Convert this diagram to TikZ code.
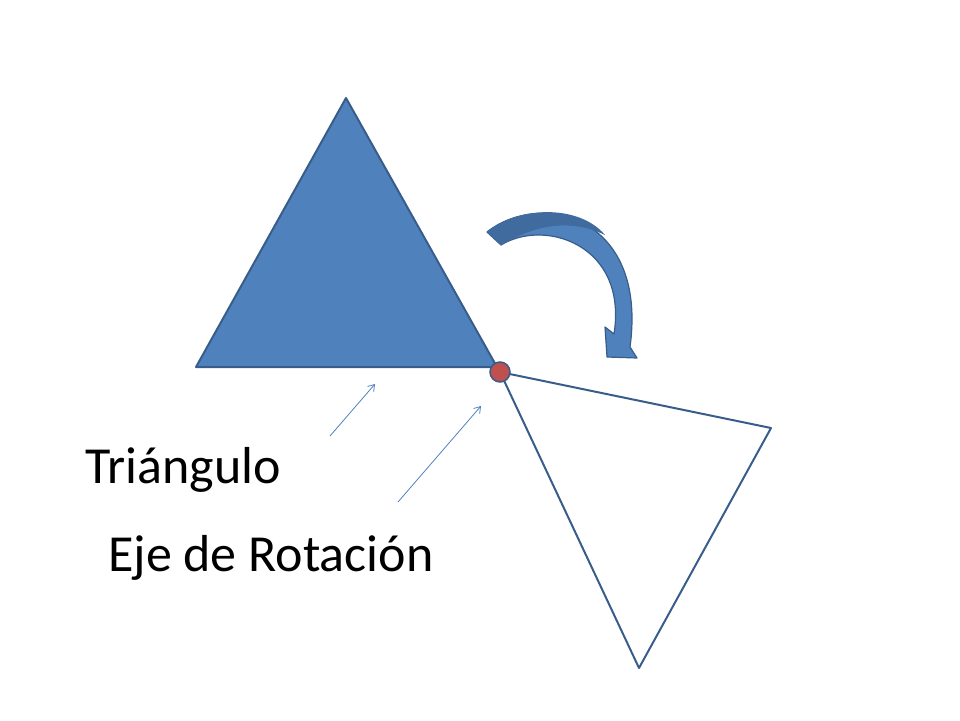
\documentclass[tikz,border=0pt]{standalone}
\usetikzlibrary{arrows.meta}
\usepackage{fontspec}
\setmainfont{Carlito}
\definecolor{fillb}{HTML}{4F81BD}
\definecolor{edgeb}{HTML}{385D8A}
\definecolor{darkb}{HTML}{3F6B9E}
\definecolor{redd}{HTML}{C0504D}
\begin{document}
\begin{tikzpicture}[x=1pt,y=-1pt,
  lbl/.style={anchor=base west,font=\fontsize{52}{60}\selectfont,inner sep=0pt},
  thinarr/.style={draw=fillb,line width=0.8pt,-{Straight Barb[length=6pt,width=8pt]}}]
\useasboundingbox (0,0) rectangle (960,720);
\coordinate (A) at (196,367);
\coordinate (B) at (346,98);
\coordinate (C) at (497,367);
\fill[fillb,draw=edgeb,line width=2pt,line join=round] (A)--(B)--(C)--cycle;
\coordinate (P) at (500,372);
\coordinate (Q) at (771,428);
\coordinate (R) at (639,668);
\draw[edgeb,line width=2pt,line join=round] (P)--(Q)--(R)--cycle;
% curved arrow
\fill[fillb,draw=edgeb,line width=1.2pt,line join=round]
  (487,232) .. controls (540,190) and (648,215) .. (630,347)
  -- (637,358) -- (607,357) -- (605,327) -- (614,334)
  .. controls (628,245) and (545,218) .. (501,245) -- cycle;
\fill[darkb] (487,232) .. controls (520,205) and (580,205) .. (605,235)
  .. controls (570,218) and (535,225) .. (501,245) -- cycle;
\node[circle,fill=redd,draw=edgeb,line width=1.5pt,minimum size=20pt,inner sep=0pt] (pivot) at (P) {};
\coordinate (a1s) at (330,436); \coordinate (a1e) at (375,384);
\coordinate (a2s) at (398,502); \coordinate (a2e) at (481,406);
\draw[thinarr] (a1s)--(a1e);
\draw[thinarr] (a2s)--(a2e);
\node[lbl] (t1) at (85,483) {Triángulo};
\node[lbl] (t2) at (108,571) {Eje de Rotación};
\end{tikzpicture}
\end{document}
